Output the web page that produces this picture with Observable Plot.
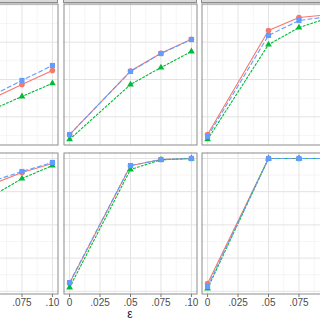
<!DOCTYPE html>
<html>
<head>
<meta charset="utf-8">
<script src="https://cdn.jsdelivr.net/npm/d3@7"></script>
<script src="https://cdn.jsdelivr.net/npm/@observablehq/plot@0.6"></script>
<style>
html, body { margin: 0; padding: 0; background: #fff; }
#chart { position: relative; width: 320px; height: 320px; overflow: hidden; background: #fff; font-family: "Liberation Sans", Arial, sans-serif; }
.strip { position: absolute; top: -17px; height: 20px; width: 134px; background: #d9d9d9; box-sizing: border-box; border: 1px solid #8c8c8c; }
#xlabel { position: absolute; left: 63px; width: 134px; top: 309px; text-align: center; font-size: 12px; color: #1a1a1a; line-height: 10px; }
</style>
</head>
<body>
<div id="chart"></div>
<script>
// ---- data ----
const epsilon = [0, 0.05, 0.075, 0.10];
const methods = ["Method A", "Method B", "Method C"];
const tickValues = [0, 0.025, 0.05, 0.075, 0.10];
const tickLabels = ["0", ".025", ".05", ".075", ".10"];

// top row
const topLeftRed   = [0.100, 0.296, 0.373, 0.448];
const topLeftGreen = [0.079, 0.237, 0.309, 0.379];
const topLeftBlue  = [0.095, 0.312, 0.395, 0.475];
const topMidRed    = [0.105, 0.445, 0.540, 0.615];
const topMidGreen  = [0.079, 0.373, 0.464, 0.550];
const topMidBlue   = [0.105, 0.443, 0.539, 0.614];
const topRightRed  = [0.105, 0.662, 0.732, 0.748];
const topRightGreen= [0.079, 0.587, 0.678, 0.732];
const topRightBlue = [0.095, 0.636, 0.716, 0.737];
// bottom row
const botLeftRed   = [0.060, 0.804, 0.895, 0.962];
const botLeftGreen = [0.040, 0.714, 0.849, 0.947];
const botLeftBlue  = [0.050, 0.827, 0.902, 0.970];
const botMidRed    = [0.060, 0.945, 0.992, 1.000];
const botMidGreen  = [0.029, 0.917, 0.990, 1.000];
const botMidBlue   = [0.066, 0.947, 0.992, 1.000];
const botRightRed  = [0.059, 1.000, 1.000, 1.000];
const botRightGreen= [0.021, 1.000, 1.000, 1.000];
const botRightBlue = [0.036, 1.000, 1.000, 1.000];

// ---- styling / layout ----
const colors = ["#F8766D", "#00BA38", "#619CFF"];
const dashes = [null, "2,2", "4,3"];
const symbols = ["circle", "triangle", "square"];
const radii = [2.8, 2.5, 2.9];
const seriesOrder = [0, 1, 2];

const xMajor = [0, 0.025, 0.05, 0.075, 0.10];
const xMinor = [0.0125, 0.0375, 0.0625, 0.0875];
const yDomains = [[0.0464, 0.807], [-0.024, 1.045]];
const yMajor = [[0.2, 0.4, 0.6, 0.8], [0, 0.25, 0.5, 0.75, 1]];
const yMinor = [[0.1, 0.3, 0.5, 0.7], [0.125, 0.375, 0.625, 0.875]];

const PW = 134, PH = 142;
const colLeft = [-76, 63, 201];
const rowTop = [3, 152];
// the outer columns are cropped: only their visible ticks are labelled
const visibleTicks = [[0.075, 0.10], tickValues, [0, 0.025, 0.05, 0.075]];

const chart = document.getElementById("chart");

colLeft.forEach(x => {
  const s = document.createElement("div");
  s.className = "strip";
  s.style.left = x + "px";
  chart.appendChild(s);
});

const panels = [
  [[topLeftRed, topLeftGreen, topLeftBlue], [topMidRed, topMidGreen, topMidBlue], [topRightRed, topRightGreen, topRightBlue]],
  [[botLeftRed, botLeftGreen, botLeftBlue], [botMidRed, botMidGreen, botMidBlue], [botRightRed, botRightGreen, botRightBlue]]
];

function makePanel(series, row, col) {
  const bottom = row === 1;
  const marks = [
    Plot.gridX(xMinor, {stroke: "#f0f0f0", strokeOpacity: 1, strokeWidth: 0.7}),
    Plot.gridY(yMinor[row], {stroke: "#f0f0f0", strokeOpacity: 1, strokeWidth: 0.7}),
    Plot.gridX(xMajor, {stroke: "#e3e3e3", strokeOpacity: 1, strokeWidth: 1}),
    Plot.gridY(yMajor[row], {stroke: "#e3e3e3", strokeOpacity: 1, strokeWidth: 1})
  ];
  const datas = series.map((vals, k) => epsilon.map((e, i) => ({eps: e, value: vals[i], method: methods[k]})));
  seriesOrder.forEach(k => {
    marks.push(Plot.line(datas[k], {x: "eps", y: "value", stroke: colors[k], strokeWidth: 1.1, strokeDasharray: dashes[k]}));
  });
  seriesOrder.forEach(k => {
    marks.push(Plot.dot(datas[k], {x: "eps", y: "value", symbol: symbols[k], fill: colors[k], stroke: "none", r: radii[k]}));
  });
  marks.push(Plot.frame({stroke: "#8c8c8c", strokeWidth: 1, inset: 0.5}));
  if (bottom) {
    marks.push(Plot.axisX(visibleTicks[col], {
      tickFormat: d => tickLabels[tickValues.indexOf(d)],
      tickSize: 3, tickPadding: 1, fontSize: 10, label: null, stroke: "#777"
    }));
  }
  const svg = Plot.plot({
    width: PW,
    height: PH + (bottom ? 20 : 0),
    marginTop: 0, marginLeft: 0, marginRight: 0, marginBottom: bottom ? 20 : 0,
    x: {domain: [-0.005, 0.105], axis: bottom ? undefined : null, label: null},
    y: {domain: yDomains[row], axis: null},
    style: {background: "transparent", color: "#4d4d4d", fontFamily: "'Liberation Sans', Arial, sans-serif", overflow: "visible"},
    marks
  });
  svg.style.position = "absolute";
  svg.style.left = colLeft[col] + "px";
  svg.style.top = rowTop[row] + "px";
  chart.appendChild(svg);
}

panels.forEach((rowPanels, r) => rowPanels.forEach((s, c) => makePanel(s, r, c)));

const lab = document.createElement("div");
lab.id = "xlabel";
lab.textContent = "ε";
chart.appendChild(lab);
</script>
</body>
</html>
